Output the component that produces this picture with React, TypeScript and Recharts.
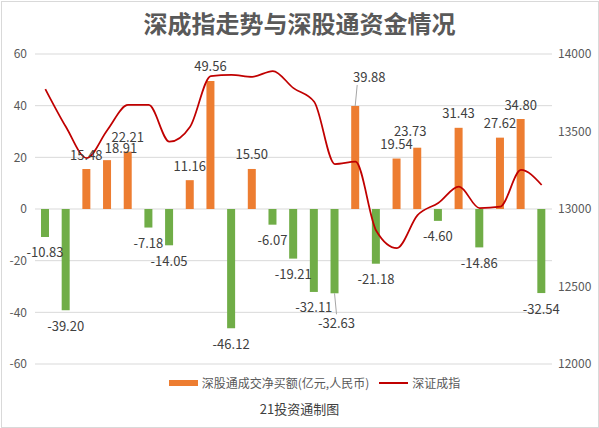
import React from 'react';
import {
  ComposedChart,
  Bar,
  Line,
  XAxis,
  YAxis,
  CartesianGrid,
  Cell,
  LabelList,
} from 'recharts';

// 深股通 daily net buy (亿元) and 深证成指 close
const days = [
  'd1', 'd2', 'd3', 'd4', 'd5', 'd6', 'd7', 'd8', 'd9', 'd10', 'd11', 'd12', 'd13',
  'd14', 'd15', 'd16', 'd17', 'd18', 'd19', 'd20', 'd21', 'd22', 'd23', 'd24', 'd25',
];
const netBuy = [
  -10.83, -39.2, 15.48, 18.91, 22.21, -7.18, -14.05, 11.16, 49.56, -46.12, 15.5, -6.07, -19.21,
  -32.11, -32.63, 39.88, -21.18, 19.54, 23.73, -4.6, 31.43, -14.86, 27.62, 34.8, -32.54,
];
const szIndex = [
  13774, 13529, 13329, 13510, 13671, 13671, 13434, 13531, 13858, 13865, 13853, 13890, 13780,
  13692, 13290, 13305, 12860, 12748, 12960, 13039, 13144, 13006, 13015, 13252, 13155,
];
const leftTicks = [-60, -40, -20, 0, 20, 40, 60];
const rightTicks = [12000, 12500, 13000, 13500, 14000];

const barName = '深股通成交净买额(亿元,人民币)';
const lineName = '深证成指';

const data = days.map((day, i) => ({ day, net: netBuy[i], index: szIndex[i] }));

const FONT = '"Noto Sans CJK SC", "Noto Sans", sans-serif';
const ORANGE = '#ed7d31';
const GREEN = '#70ad47';
const RED = '#c00000';

// some labels were dragged away from their bars in the original (leader lines on two)
const labelShift: Record<number, { dx: number; dy: number; lead?: boolean }> = {
  3: { dx: 14, dy: 2 },
  14: { dx: 2, dy: 14, lead: true },
  15: { dx: 14, dy: -14, lead: true },
  18: { dx: -7, dy: -2 },
};

function BarLabel(props: any) {
  const { x, y, width, height, value, index } = props;
  const top = Math.min(y, y + height);
  const bottom = Math.max(y, y + height);
  const cx = x + width / 2;
  const shift = labelShift[index] || { dx: 0, dy: 0 };
  const neg = value < 0;
  const ty = (neg ? bottom + 15 : top - 15) + shift.dy;
  const tx = cx + shift.dx;
  return (
    <g>
      {shift.lead && (
        <line
          x1={cx}
          y1={neg ? bottom : top}
          x2={neg ? tx : tx - 12}
          y2={neg ? ty - 8 : ty + 8}
          stroke="#a6a6a6"
          strokeWidth={1}
        />
      )}
      <text
        x={tx}
        y={ty}
        textAnchor="middle"
        dominantBaseline="central"
        fontSize={13}
        fill="#404040"
        fontFamily={FONT}
      >
        {value.toFixed(2)}
      </text>
    </g>
  );
}

export default function App() {
  return (
    <div
      style={{
        position: 'absolute',
        left: 0,
        top: 0,
        width: 599,
        height: 428,
        background: '#fff',
        fontFamily: FONT,
      }}
    >
      <div
        style={{
          position: 'absolute',
          left: 0,
          top: 5,
          width: 599,
          textAlign: 'center',
          fontSize: 24,
          lineHeight: '35px',
          fontWeight: 'bold',
          color: '#595959',
        }}
      >
        深成指走势与深股通资金情况
      </div>

      <ComposedChart
        width={599}
        height={428}
        data={data}
        margin={{ top: 54, right: 0, bottom: 64, left: 0 }}
        barCategoryGap={0}
      >
        <CartesianGrid vertical={false} stroke="#d9d9d9" yAxisId="left" />
        <XAxis dataKey="day" hide height={0} />
        <YAxis
          yAxisId="left"
          width={35}
          domain={[-60, 60]}
          ticks={leftTicks}
          axisLine={false}
          tickLine={false}
          tick={{ fontSize: 12, fill: '#595959', fontFamily: FONT }}
        />
        <YAxis
          yAxisId="right"
          orientation="right"
          width={47}
          domain={[12000, 14000]}
          ticks={rightTicks}
          axisLine={false}
          tickLine={false}
          tickMargin={0}
          tick={{ fontSize: 12, fill: '#595959', fontFamily: FONT, textAnchor: 'start' }}
        />
        <Bar yAxisId="left" dataKey="net" barSize={8} isAnimationActive={false}>
          {data.map((d, i) => (
            <Cell key={i} fill={d.net < 0 ? GREEN : ORANGE} />
          ))}
          <LabelList dataKey="net" content={BarLabel} />
        </Bar>
        <Line
          yAxisId="right"
          dataKey="index"
          type="monotone"
          stroke={RED}
          strokeWidth={1.75}
          dot={false}
          isAnimationActive={false}
        />
      </ComposedChart>

      <div
        style={{
          position: 'absolute',
          left: 30,
          top: 374,
          width: 569,
          display: 'flex',
          justifyContent: 'center',
          alignItems: 'center',
          fontSize: 12,
          color: '#595959',
        }}
      >
        <span style={{ display: 'inline-block', width: 29, height: 6, background: ORANGE, marginRight: 4 }} />
        <span style={{ marginRight: 10 }}>{barName}</span>
        <span style={{ display: 'inline-block', width: 29, height: 2, background: RED, marginRight: 4 }} />
        <span>{lineName}</span>
      </div>
      <div
        style={{
          position: 'absolute',
          left: 0,
          top: 399,
          width: 599,
          textAlign: 'center',
          fontSize: 13,
          color: '#404040',
        }}
      >
        21投资通制图
      </div>
      <div
        style={{
          position: 'absolute',
          left: 1,
          top: 1,
          width: 596,
          height: 425,
          border: '1px solid #d9d9d9',
          pointerEvents: 'none',
        }}
      />
    </div>
  );
}
